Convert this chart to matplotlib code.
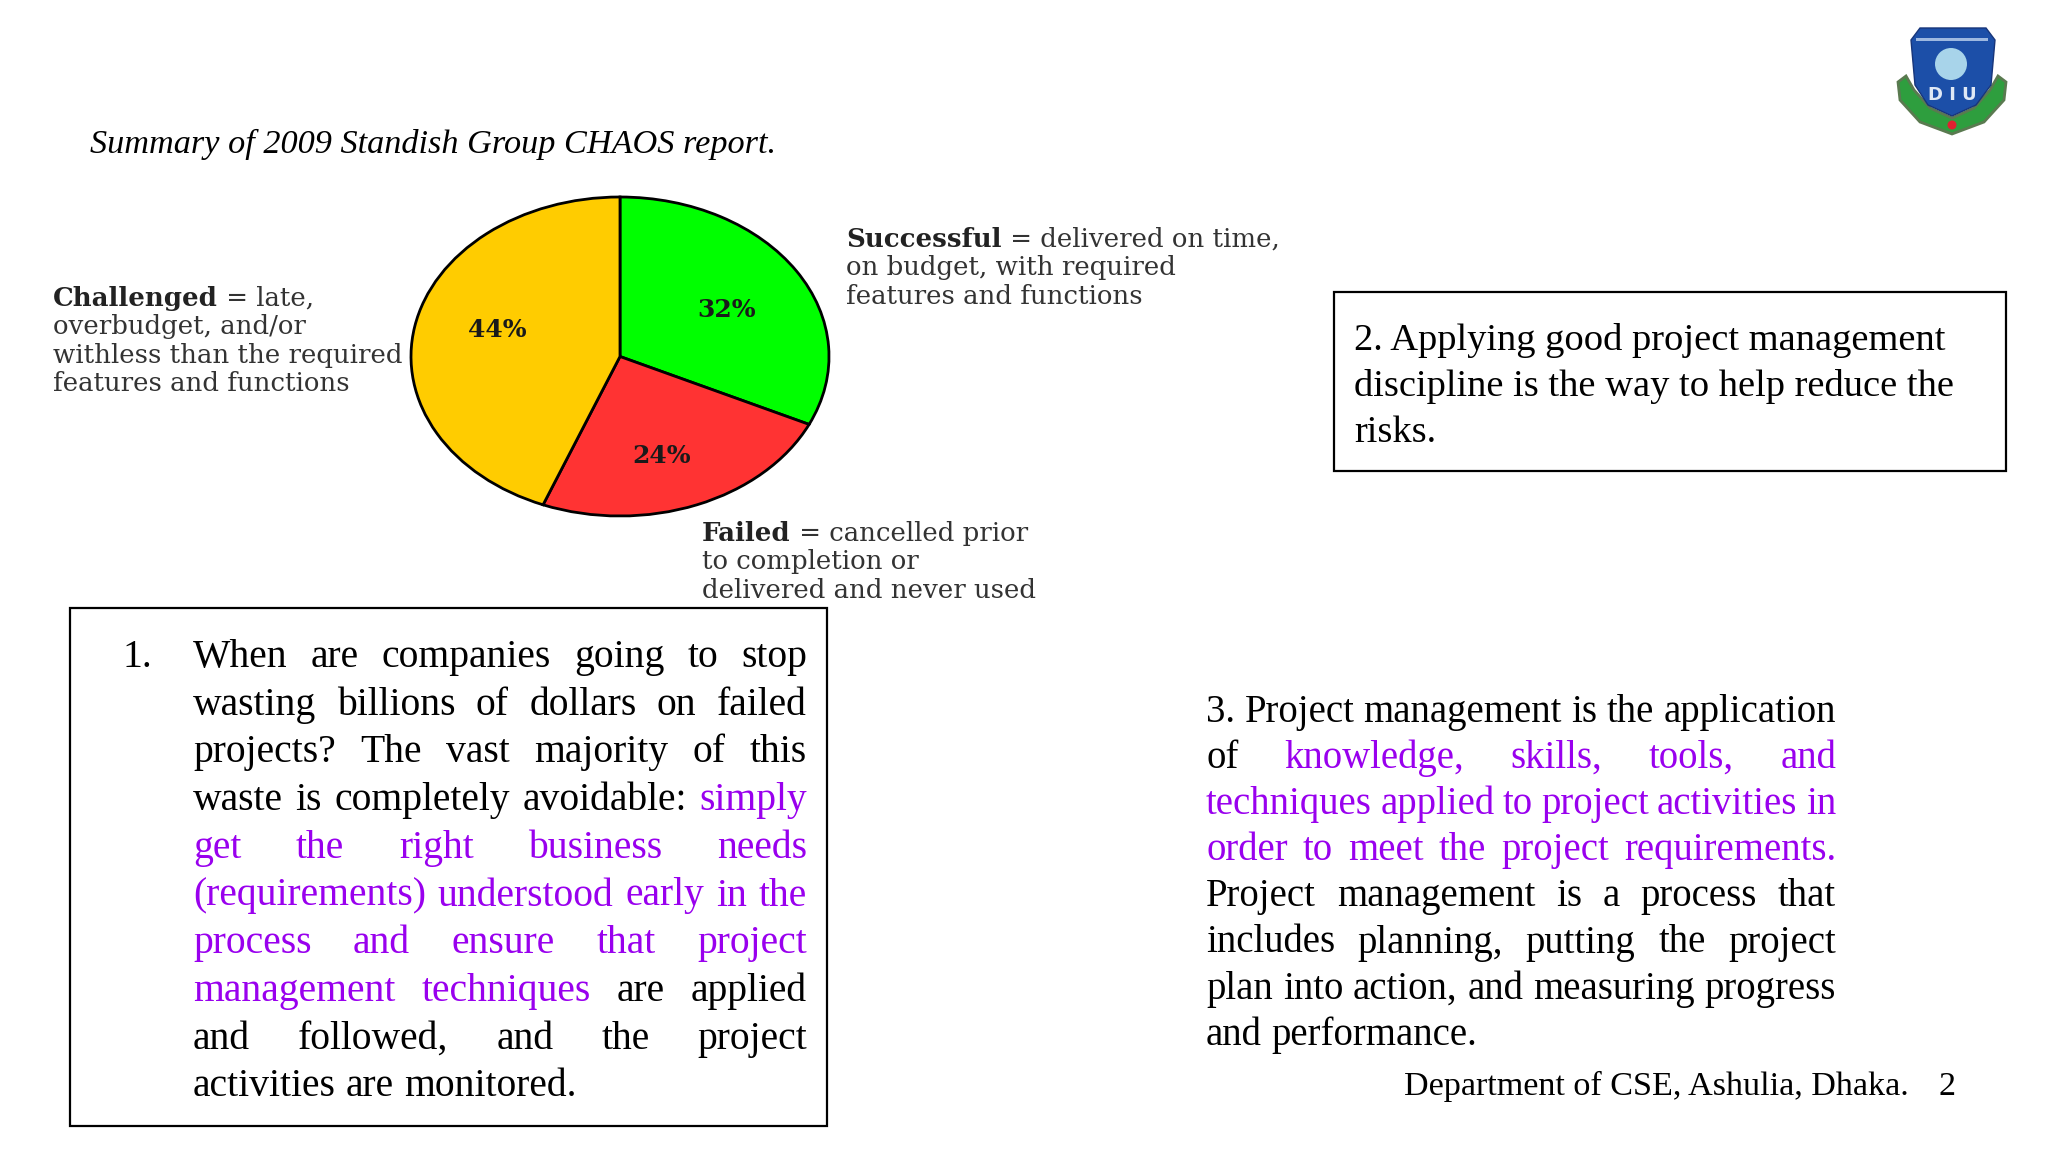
import matplotlib
matplotlib.use("Agg")
import matplotlib.pyplot as plt
from matplotlib.patches import Polygon, Rectangle, Circle

plt.rcParams['font.family'] = ['Liberation Serif', 'DejaVu Serif']

# pie data
shares = [32, 24, 44]
share_labels = ['32%', '24%', '44%']
share_colors = ['#00ff00', '#ff3333', '#ffcc00']

title = 'Summary of 2009 Standish Group CHAOS report.'
footer = 'Department of CSE, Ashulia, Dhaka.'
page = '2'

PURPLE = '#9900ee'
BLACK = '#000000'

# each line: list of (text, colour) runs, then whether it is justified
box1_lines = [
    ([('When are companies going to stop', BLACK)], True),
    ([('wasting billions of dollars on failed', BLACK)], True),
    ([('projects? The vast majority of this', BLACK)], True),
    ([('waste is completely avoidable:', BLACK), ('simply', PURPLE)], True),
    ([('get the right business needs', PURPLE)], True),
    ([('(requirements) understood early in the', PURPLE)], True),
    ([('process and ensure that project', PURPLE)], True),
    ([('management techniques', PURPLE), ('are applied', BLACK)], True),
    ([('and followed, and the project', BLACK)], True),
    ([('activities are monitored.', BLACK)], False),
]
box2_lines = [
    '2. Applying good project management',
    'discipline is the way to help reduce the',
    'risks.',
]
box3_lines = [
    ([('3. Project management is the application', BLACK)], True),
    ([('of', BLACK), ('knowledge, skills, tools, and', PURPLE)], True),
    ([('techniques applied to project activities in', PURPLE)], True),
    ([('order to meet the project requirements.', PURPLE)], True),
    ([('Project management is a process that', BLACK)], True),
    ([('includes planning, putting the project', BLACK)], True),
    ([('plan into action, and measuring progress', BLACK)], True),
    ([('and performance.', BLACK)], False),
]

fig = plt.figure(figsize=(20.48, 11.52), dpi=100, facecolor='white')

# pie is squashed into an ellipse
pie_ax = fig.add_axes([411 / 2048, 1 - 516 / 1152, 418 / 2048, 319 / 1152], zorder=1)
wedges, _ = pie_ax.pie(shares, colors=share_colors, startangle=90, counterclock=False,
                       wedgeprops={'edgecolor': 'black', 'linewidth': 2, 'clip_on': False})
pie_ax.set_aspect('auto')
pie_ax.set_xlim(-1, 1)
pie_ax.set_ylim(-1, 1)

# page axes in pixels, top-left origin, above the pie
page_ax = fig.add_axes([0, 0, 1, 1], zorder=2)
page_ax.set_xlim(0, 2048)
page_ax.set_ylim(1152, 0)
page_ax.axis('off')

renderer = fig.canvas.get_renderer()


def text_width(s, size):
    t = page_ax.text(0, 0, s, fontsize=size)
    w = t.get_window_extent(renderer).width
    t.remove()
    return w


def draw_line(runs, justified, left, right, y, size):
    # split the runs into words and spread them over the column
    words = [(w, c) for run, c in runs for w in run.split()]
    widths = [text_width(w, size) for w, c in words]
    space = text_width('a b', size) - text_width('ab', size)
    if justified:
        space = (right - left - sum(widths)) / (len(words) - 1)
    x = left
    for (w, c), width in zip(words, widths):
        page_ax.text(x, y, w, fontsize=size, color=c, va='baseline', ha='left')
        x += width + space


# title
page_ax.text(90, 153, title, fontsize=24.7, style='italic', va='baseline')

# pie annotations, wide serif like the stretched picture in the slide
NOTE = 18.7


def note(x, y, bold, rest, lines):
    t = page_ax.text(x, y, bold, fontsize=NOTE, family='DejaVu Serif', weight='bold',
                     va='baseline', color='#222222')
    w = t.get_window_extent(renderer).width
    page_ax.text(x + w, y, rest, fontsize=NOTE, family='DejaVu Serif', va='baseline', color='#333333')
    for i, s in enumerate(lines):
        page_ax.text(x, y + 28.4 * (i + 1), s, fontsize=NOTE, family='DejaVu Serif',
                     va='baseline', color='#333333')


note(53, 306, 'Challenged', ' = late,',
     ['overbudget, and/or', 'withless than the required', 'features and functions'])
note(846, 247, 'Successful', ' = delivered on time,',
     ['on budget, with required', 'features and functions'])
note(702, 541, 'Failed', ' = cancelled prior',
     ['to completion or', 'delivered and never used'])

# percent labels
label_xy = [(727, 310), (662, 456), (497, 330)]
for lab, (x, y) in zip(share_labels, label_xy):
    page_ax.text(x, y, lab, fontsize=18, family='DejaVu Serif', weight='bold',
                 ha='center', va='center', color='#1a1a1a')

# box 1
page_ax.add_patch(Rectangle((69.5, 607.5), 757, 518, fill=False, edgecolor='black', linewidth=1.6))
page_ax.text(123, 667, '1.', fontsize=28.5, va='baseline')
for i, (runs, just) in enumerate(box1_lines):
    draw_line(runs, just, 193, 807, 667 + i * 47.7, 28.5)

# box 2
page_ax.add_patch(Rectangle((1333.5, 291.5), 672, 179, fill=False, edgecolor='black', linewidth=1.6))
for i, s in enumerate(box2_lines):
    page_ax.text(1354, 350 + i * 46, s, fontsize=27.7, va='baseline')

# box 3 has no frame
for i, (runs, just) in enumerate(box3_lines):
    draw_line(runs, just, 1206, 1836, 722 + i * 46.1, 27.9)

# footer
page_ax.text(1404, 1095, footer, fontsize=24.6, va='baseline')
page_ax.text(1938, 1095, page, fontsize=24.6, va='baseline')

# crest at the top right
wreath = [(1898, 82), (1906, 76), (1914, 90), (1930, 108), (1952, 118), (1974, 108), (1990, 90),
          (1998, 76), (2006, 82), (2004, 100), (1984, 122), (1952, 134), (1920, 122), (1900, 100)]
shield = [(1920, 28), (1986, 28), (1995, 40), (1991, 85), (1976, 105), (1952, 116), (1928, 105),
          (1915, 85), (1911, 40)]
page_ax.add_patch(Polygon(wreath, closed=True, facecolor='#2e9e3e', edgecolor='#5a7a50', linewidth=2))
page_ax.add_patch(Polygon(shield, closed=True, facecolor='#1c4fa8', edgecolor='#17357a', linewidth=1))
page_ax.add_patch(Rectangle((1916, 38), 72, 3, facecolor='#9db8e0', edgecolor='none'))
page_ax.add_patch(Circle((1951, 64), 16, facecolor='#a8d4ea', edgecolor='none'))
page_ax.add_patch(Circle((1952, 125), 4.5, facecolor='#e02030', edgecolor='none'))
page_ax.text(1952, 95, 'D I U', fontsize=13, family='DejaVu Sans', weight='bold', color='#dfe8f5',
             ha='center', va='center')

fig.savefig('out.png', dpi=100, facecolor='white')
